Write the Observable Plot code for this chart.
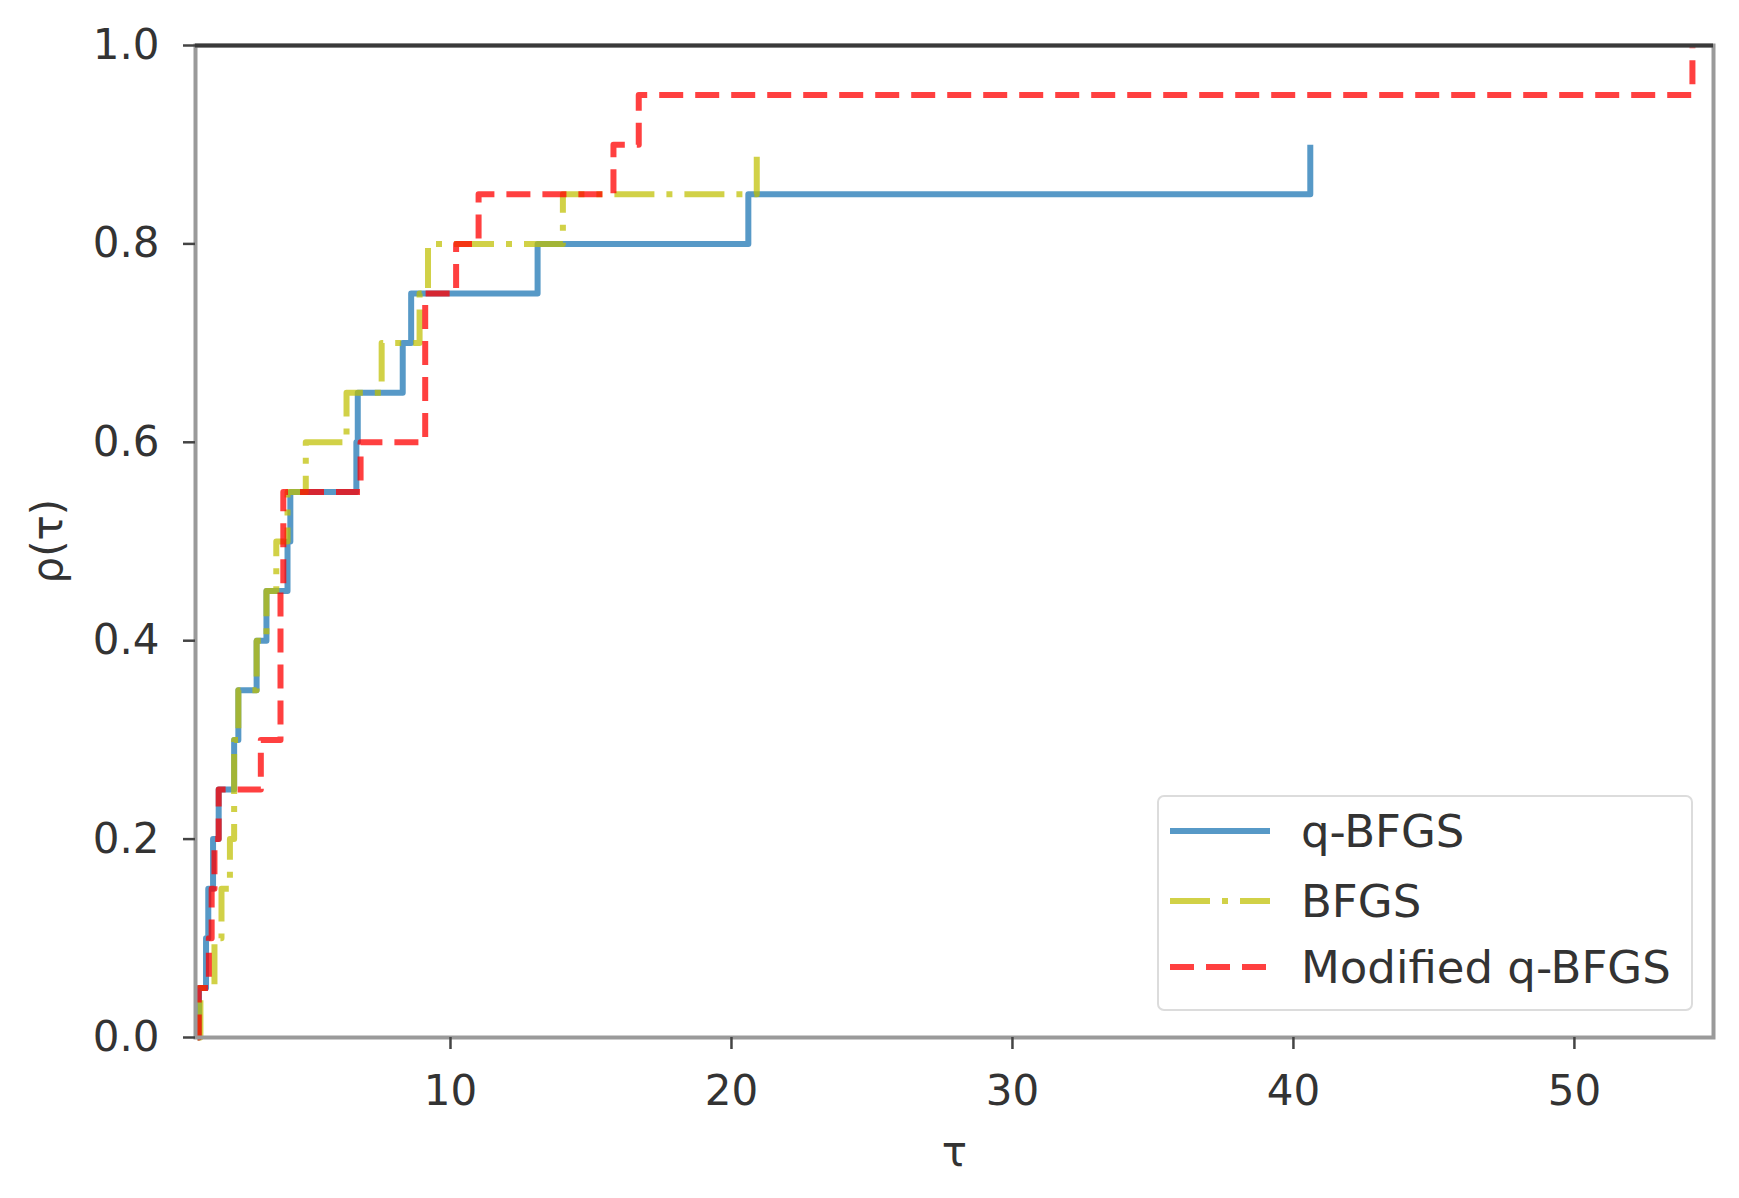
<!DOCTYPE html>
<html>
<head>
<meta charset="utf-8">
<script src="https://cdn.jsdelivr.net/npm/d3@7"></script>
<script src="https://cdn.jsdelivr.net/npm/@observablehq/plot@0.6"></script>
<style>
html, body { margin: 0; padding: 0; background: #fff; overflow: hidden; }
#fig { position: relative; width: 1739px; height: 1198px; font-family: "DejaVu Sans", sans-serif; }
#legend { position: absolute; left: 1157px; top: 795px; width: 536px; height: 216px; box-sizing: border-box;
  border: 2px solid #dcdcdc; border-radius: 7px; background: rgba(255,255,255,0.85); }
.row { position: absolute; left: 0; height: 0; }
.row svg { position: absolute; left: 10px; top: -8px; }
.row span { position: absolute; left: 142px; top: 0; transform: translateY(-50%); font-size: 45px; color: #333; white-space: nowrap; line-height: 1; }
</style>
</head>
<body>
<div id="fig"></div>
<script>
// ---- data ----
const seriesNames = ["q-BFGS", "BFGS", "Modified q-BFGS"];

const qbfgsTau = [1.0, 1.05, 1.3, 1.38, 1.55, 1.75, 2.3, 2.45, 3.1, 3.45, 4.2, 4.3, 6.65, 6.7, 8.3, 8.6, 13.1, 20.6, 40.6];
const qbfgsRho = [0, 0.05, 0.10, 0.15, 0.20, 0.25, 0.30, 0.35, 0.40, 0.45, 0.50, 0.55, 0.60, 0.65, 0.70, 0.75, 0.80, 0.85, 0.90];

const bfgsTau = [1.0, 1.1, 1.6, 1.85, 2.15, 2.3, 2.3, 2.45, 3.1, 3.45, 3.8, 4.2, 4.85, 6.3, 7.55, 8.9, 9.2, 14.0, 20.9];
const bfgsRho = [0, 0.05, 0.10, 0.15, 0.20, 0.25, 0.30, 0.35, 0.40, 0.45, 0.50, 0.55, 0.60, 0.65, 0.70, 0.75, 0.80, 0.85, 0.90];

const modTau = [1.0, 1.04, 1.4, 1.5, 1.6, 1.75, 3.25, 3.95, 4.05, 6.8, 9.1, 10.2, 11.0, 15.8, 16.7, 54.2];
const modRho = [0, 0.05, 0.10, 0.15, 0.20, 0.25, 0.30, 0.45, 0.55, 0.60, 0.75, 0.80, 0.85, 0.90, 0.95, 1.00];

const xTicks = [10, 20, 30, 40, 50];
const yTicks = [0, 0.2, 0.4, 0.6, 0.8, 1.0];
const xLabel = "τ";
const yLabel = "ρ(τ)";

// ---- tables built from the arrays ----
const toRows = (tau, rho) => tau.map((t, i) => ({tau: t, rho: rho[i]}));
const qbfgs = toRows(qbfgsTau, qbfgsRho);
const bfgs = toRows(bfgsTau, bfgsRho);
const mod = toRows(modTau, modRho);

const styles = [
  {stroke: "#1f77b4", strokeOpacity: 0.75, dash: null},
  {stroke: "#bfbf00", strokeOpacity: 0.72, dash: "40,12,6,12"},
  {stroke: "#ff0000", strokeOpacity: 0.75, dash: "24,12"}
];
const LW = 6;

const lineOpts = (s) => ({x: "tau", y: "rho", curve: "step-after", stroke: s.stroke, strokeOpacity: s.strokeOpacity,
  strokeWidth: LW, strokeDasharray: s.dash || undefined, strokeLinejoin: "round", strokeLinecap: "butt"});

const chart = Plot.plot({
  width: 1739,
  height: 1198,
  marginLeft: 195,
  marginRight: 26,
  marginTop: 45,
  marginBottom: 161,
  style: {fontFamily: "DejaVu Sans, sans-serif", fontSize: "42px", color: "#333", background: "#fff", overflow: "visible"},
  x: {domain: [0.925, 54.95]},
  y: {domain: [0, 1]},
  marks: [
    Plot.line(qbfgs, lineOpts(styles[0])),
    Plot.line(bfgs, lineOpts(styles[1])),
    Plot.line(mod, lineOpts(styles[2])),
    Plot.frame({stroke: "#9a9a9a", strokeWidth: 4}),
    Plot.ruleY([yTicks[yTicks.length - 1]], {stroke: "#3a3a3a", strokeWidth: 4}),
    Plot.axisX({ticks: xTicks, tickFormat: d => String(d), tickSize: 12, tickPadding: 26, stroke: "#444", strokeWidth: 2.5, label: null, fontSize: 42}),
    Plot.axisY({ticks: yTicks, tickFormat: d => d.toFixed(1), tickSize: 12, tickPadding: 24, stroke: "#444", strokeWidth: 2.5, label: null, fontSize: 42}),
    Plot.text([xLabel], {frameAnchor: "bottom", dy: 128, fontSize: 42, fill: "#333"}),
    Plot.text([yLabel], {frameAnchor: "left", dx: -147, dy: 42, rotate: -90, fontSize: 42, fill: "#333"})
  ]
});
const fig = document.getElementById("fig");
fig.appendChild(chart);

// ---- legend (inside the axes, lower right) ----
const legend = document.createElement("div");
legend.id = "legend";
const rowTops = [34, 104, 170];
seriesNames.forEach((name, i) => {
  const s = styles[i];
  const row = document.createElement("div");
  row.className = "row";
  row.style.top = rowTops[i] + "px";
  row.innerHTML = `<svg width="102" height="16"><line x1="1" x2="101" y1="8" y2="8" stroke="${s.stroke}" stroke-opacity="${s.strokeOpacity}" stroke-width="${LW}" ${s.dash ? `stroke-dasharray="${s.dash}"` : ""}/></svg><span>${name}</span>`;
  legend.appendChild(row);
});
fig.appendChild(legend);
</script>
</body>
</html>
